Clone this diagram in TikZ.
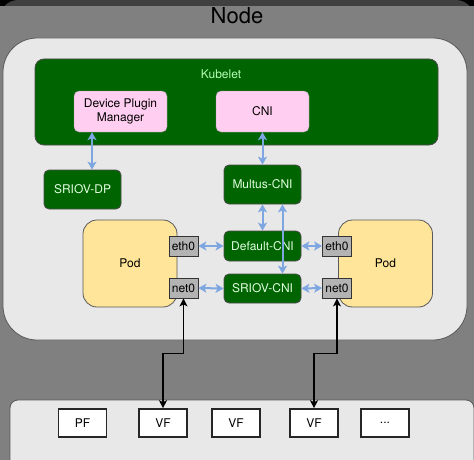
\documentclass[tikz,border=0pt]{standalone}
\usepackage{fontspec}
\setmainfont{TeX Gyre Heros}
\usetikzlibrary{arrows.meta}

\begin{document}
\begin{tikzpicture}[x=1pt,y=-1pt]
\definecolor{k_green}{RGB}{0,100,0}     %#006400
\definecolor{k_pink}{RGB}{255,206,240}  %#FFCEF0
\definecolor{k_yellow}{RGB}{255,229,153}%#FFE599
\definecolor{k_blue}{RGB}{126,166,224}  %#7EA6E0
\definecolor{k_light}{RGB}{232,232,232} %#E8E8E8
\definecolor{k_gray}{RGB}{128,128,128}  %#808080
\definecolor{k_port}{RGB}{179,179,179}  %#B3B3B3
\definecolor{k_text}{RGB}{225,255,225}  %#E1FFE1

\tikzset{
  label/.style={font=\fontsize{12}{14}\selectfont,align=center,inner sep=0pt},
  greenbox/.style={label,draw=black!70,fill=k_green,text=k_text,rounded corners=5pt,line width=0.8pt,minimum width=77pt},
  pinkbox/.style={label,draw=black!40,fill=k_pink,rounded corners=5pt,minimum width=93pt,minimum height=41pt},
  podbox/.style={label,draw=black!65,fill=k_yellow,rounded corners=14pt,line width=0.8pt,minimum width=94pt,minimum height=87pt},
  portbox/.style={label,draw=black!80,fill=k_port,minimum width=29pt,minimum height=20pt,line width=0.8pt},
  fnbox/.style={label,draw=black!85,fill=white,line width=1.6pt,minimum width=48pt,minimum height=28pt},
  bluelink/.style={k_blue,line width=2pt,{Stealth[length=8pt,width=9pt,inset=2pt]}-{Stealth[length=8pt,width=9pt,inset=2pt]}},
  blacklink/.style={black,line width=1.6pt,{Stealth[length=8pt,width=8pt,inset=2pt]}-{Stealth[length=8pt,width=8pt,inset=2pt]}},
}

\useasboundingbox (0,0) rectangle (474,460);

% background
\fill [black] (0,0) rectangle (474,460);
\fill [black!75,rounded corners=18pt] (0,0) rectangle (474,500);
\fill [k_gray] (0,6) rectangle (474,460);
\node [font=\fontsize{22}{25}\selectfont,inner sep=0pt] (title) at (237,16) {Node};

% host and nic
\draw [black!65,fill=k_light,rounded corners=34pt,line width=0.8pt] (3,38) rectangle (467,340);
\draw [black!65,fill=k_light,rounded corners=8pt,line width=0.8pt] (10,400) rectangle (474,480);

% kubelet
\node [greenbox,rounded corners=9pt,minimum width=403pt,minimum height=86pt] (kubelet) at (236.5,102) {};
\node [label,text=k_text!80!green] (kubeletlabel) at (221,74) {Kubelet};
\node [pinkbox] (dpm) at (120.5,111.5) {Device Plugin\\Manager};
\node [pinkbox] (cni) at (262.5,111.5) {CNI};

% plugins
\node [greenbox,minimum height=39pt] (sriovdp) at (82.5,189.5) {SRIOV-DP};
\node [greenbox,minimum height=39pt] (multus)  at (262.5,184.5) {Multus-CNI};
\node [greenbox,minimum height=30pt] (default) at (262.5,246) {Default-CNI};
\node [greenbox,minimum height=29pt] (sriovcni) at (262.5,288.5) {SRIOV-CNI};

% pods
\node [podbox] (podl) at (130,263.5) {Pod};
\node [podbox] (podr) at (385.5,263.5) {Pod};
\node [portbox] (ethl) at (183.5,246) {eth0};
\node [portbox] (netl) at (183.5,288) {net0};
\node [portbox] (ethr) at (337,246) {eth0};
\node [portbox] (netr) at (337,288) {net0};

% functions
\node [fnbox] (pf)  at (82.5,423) {PF};
\node [fnbox] (vfa) at (163,423) {VF};
\node [fnbox] (vfb) at (236,423) {VF};
\node [fnbox] (vfc) at (314,423) {VF};
\node [fnbox] (more) at (385,423) {...};

\coordinate (dpmfoot) at ([xshift=-28.5pt]dpm.south);
\draw [bluelink] (sriovdp.north -| dpmfoot) -- (dpmfoot);
\draw [bluelink] (cni.south) -- (multus.north);
\draw [bluelink] (multus.south) -- (default.north);
\draw [bluelink] ([xshift=20pt]multus.south) -- ([xshift=20pt]sriovcni.north);
\draw [bluelink] (ethl.east) -- (default.west);
\draw [bluelink] (default.east) -- (ethr.west);
\draw [bluelink] (netl.east) -- (sriovcni.west);
\draw [bluelink] (sriovcni.east) -- (netr.west);

\draw [blacklink] (netl.south) -- ++(0,55) -| (vfa.north);
\draw [blacklink] (netr.south) -- ++(0,55) -| (vfc.north);

\end{tikzpicture}
\end{document}
